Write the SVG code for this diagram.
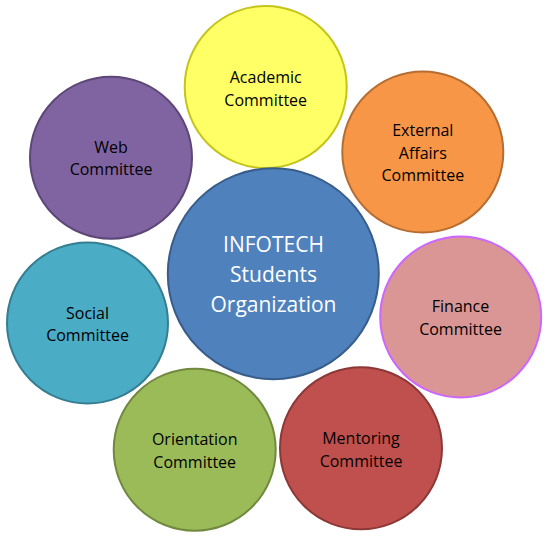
<svg xmlns="http://www.w3.org/2000/svg" width="552" height="541" viewBox="0 0 552 541">
<style>
.n{stroke-width:2}
.t{font-family:"Open Sans","Noto Sans","Liberation Sans",sans-serif;font-size:16px;fill:#000;text-anchor:middle}
.c{font-family:"Open Sans","Noto Sans","Liberation Sans",sans-serif;font-size:21px;fill:#fff;text-anchor:middle}
</style>
<rect width="552" height="541" fill="#fff"/>
<g id="connectors"></g>
<g id="academic">
<circle class="n" cx="265.7" cy="87" r="81" fill="#ffff66" stroke="#c4c41a"/>
<text class="t" x="265.7" y="83">Academic</text>
<text class="t" x="265.7" y="105.5">Committee</text>
</g>
<g id="external">
<circle class="n" cx="422.8" cy="152" r="80.5" fill="#f79646" stroke="#b66d31"/>
<text class="t" x="422.8" y="136">External</text>
<text class="t" x="422.8" y="158.5">Affairs</text>
<text class="t" x="422.8" y="181">Committee</text>
</g>
<g id="finance">
<circle class="n" cx="460.7" cy="317" r="80.5" fill="#d99694" stroke="#cc66ff"/>
<text class="t" x="460.5" y="312.3">Finance</text>
<text class="t" x="460.5" y="335">Committee</text>
</g>
<g id="mentoring">
<circle class="n" cx="361" cy="448.3" r="81" fill="#c0504d" stroke="#8c3836"/>
<text class="t" x="361" y="444">Mentoring</text>
<text class="t" x="361" y="466.7">Committee</text>
</g>
<g id="orientation">
<circle class="n" cx="194.7" cy="449.7" r="81" fill="#9bbb59" stroke="#71893f"/>
<text class="t" x="194.7" y="445">Orientation</text>
<text class="t" x="194.7" y="467.7">Committee</text>
</g>
<g id="social">
<circle class="n" cx="87.5" cy="323" r="80.5" fill="#4bacc6" stroke="#357d91"/>
<text class="t" x="87.5" y="318.7">Social</text>
<text class="t" x="87.5" y="341.3">Committee</text>
</g>
<g id="web">
<circle class="n" cx="111" cy="157.7" r="81" fill="#8064a2" stroke="#5c4776"/>
<text class="t" x="111" y="152.7">Web</text>
<text class="t" x="111" y="175.3">Committee</text>
</g>
<g id="center">
<circle class="n" cx="273.3" cy="273.7" r="105.5" fill="#4f81bd" stroke="#385d8a"/>
<text class="c" x="273.5" y="251.7">INFOTECH</text>
<text class="c" x="273.5" y="281.7">Students</text>
<text class="c" x="273.5" y="311.7">Organization</text>
</g>
</svg>
